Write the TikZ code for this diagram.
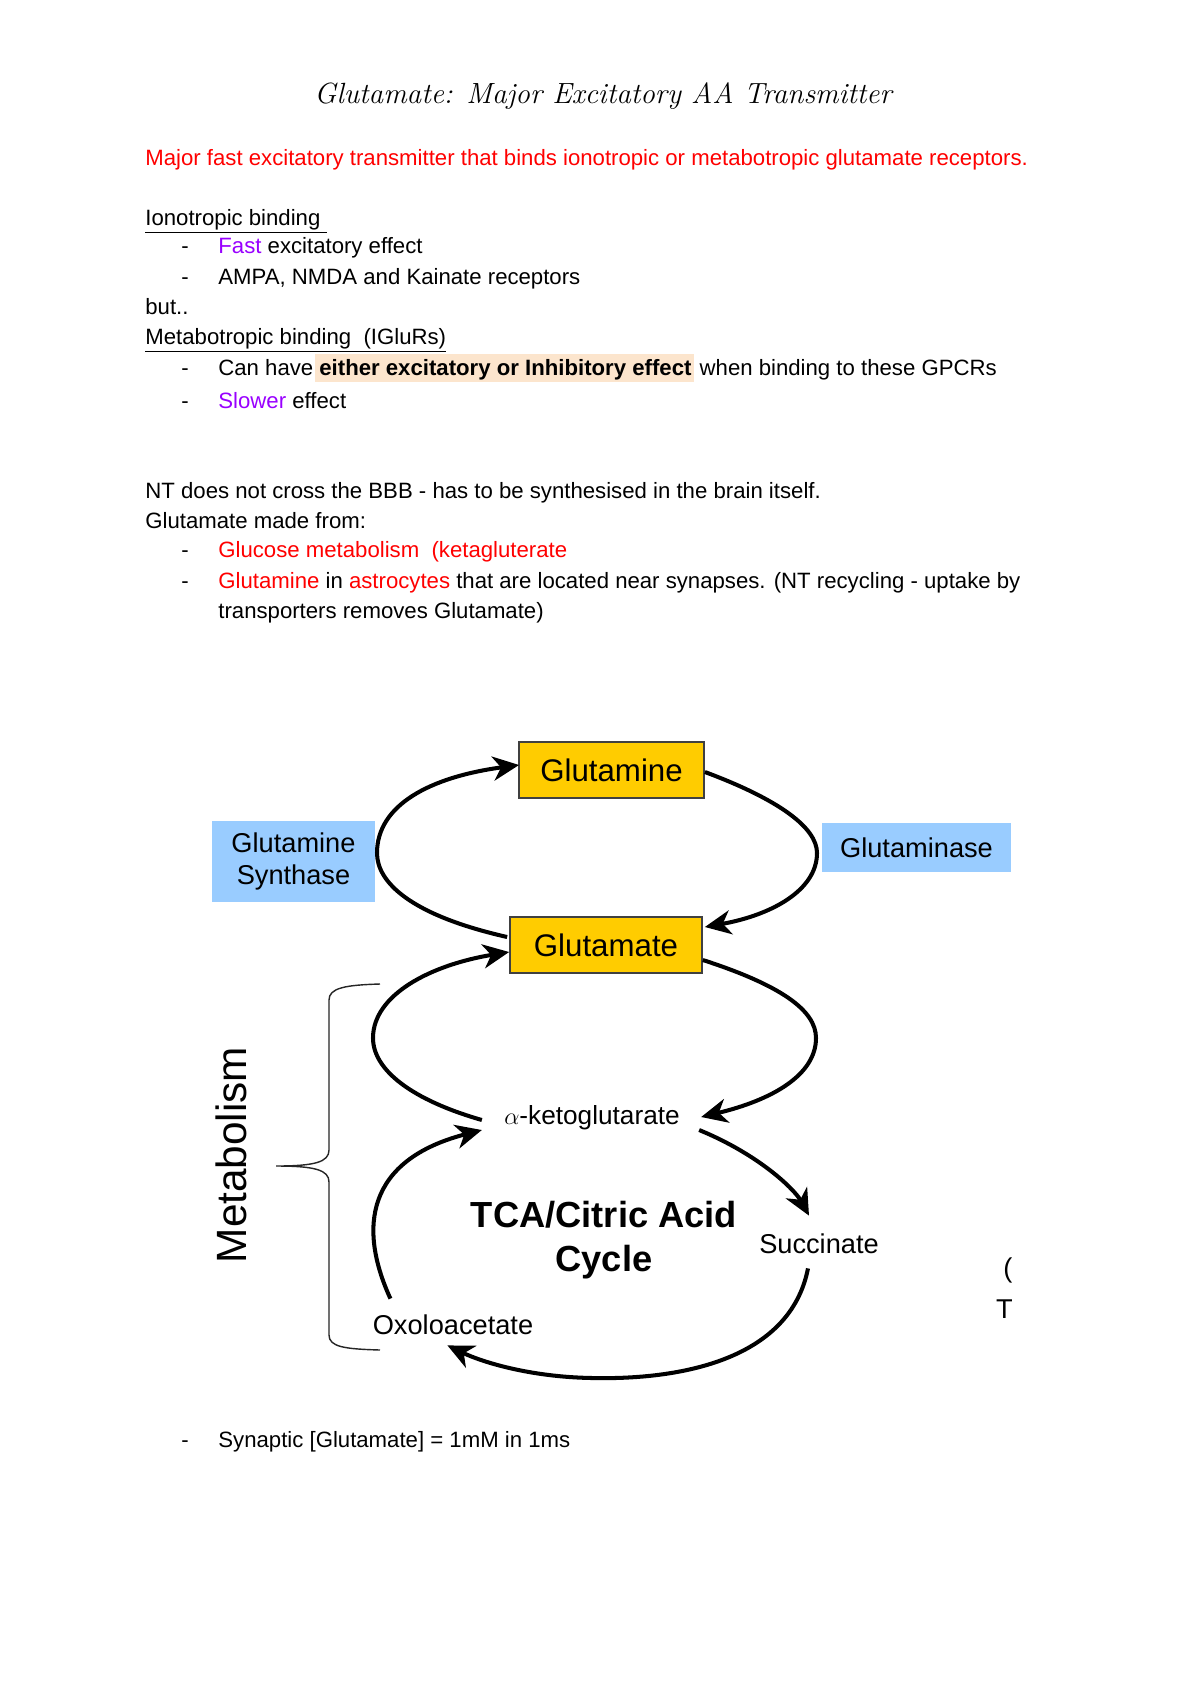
\documentclass[tikz,border=0pt]{standalone}
\usepackage{fontspec}
\newfontfamily\arialf{Liberation Sans}
\usetikzlibrary{arrows.meta,calc}
\definecolor{gdred}{HTML}{FF0000}
\definecolor{gdpurple}{HTML}{9900FF}
\definecolor{hlcol}{HTML}{FCE5CD}
\definecolor{gold}{HTML}{FFCC00}
\definecolor{lblue}{HTML}{99CCFF}
\definecolor{boxedge}{HTML}{404040}
\tikzset{
  body/.style={anchor=base west, inner sep=0pt, font=\arialf\fontsize{11pt}{13.5pt}\selectfont},
  ybox/.style={draw=boxedge, fill=gold, line width=0.9pt, inner sep=0pt, font=\arialf\fontsize{15.5pt}{18pt}\selectfont},
  bbox/.style={fill=lblue, inner sep=0pt, align=center, font=\arialf\fontsize{13.5pt}{16pt}\selectfont},
  lbl/.style={inner sep=0pt, font=\arialf\fontsize{13.5pt}{16pt}\selectfont},
  arr/.style={line width=2pt, -{Stealth[length=13pt,width=12pt,inset=4pt]}},
  bracestyle/.style={line width=0.7pt, draw=black!85},
}
\begin{document}
\begin{tikzpicture}[x=0.49606pt,y=-0.49606pt]
\useasboundingbox (0,0) rectangle (1200,1698);
\fill[white] (0,0) rectangle (1200,1698);

% ---- text ----
\node[anchor=base, inner sep=0pt, font=\fontsize{14.5pt}{17pt}\selectfont\itshape] (title) at (603,103) {Glutamate: Major Excitatory AA Transmitter};
\node[body, text=gdred] (t1) at (145,165) {Major fast excitatory transmitter that binds ionotropic or metabotropic glutamate receptors.};
\node[body] (t2) at (145,225) {\underline{Ionotropic binding\ }};
\node[body] (d1) at (181,253) {-};
\node[body] (t3) at (218,253) {{\color{gdpurple}Fast} excitatory effect};
\node[body] (d2) at (181,284) {-};
\node[body] (t4) at (218,284) {AMPA, NMDA and Kainate receptors};
\node[body] (t5) at (145,314) {but..};
\node[body] (t6) at (145,344) {\underline{Metabotropic binding\ \ (IGluRs)}};
\node[body] (d3) at (181,375) {-};
\node[body] (t7) at (218,375) {Can have\hspace{1pt}{\setlength{\fboxsep}{0pt}\colorbox{hlcol}{\rule[-3.5pt]{0pt}{13.9pt}\hspace{2pt}\textbf{either excitatory or Inhibitory effect}\hspace{1pt}}} when binding to these GPCRs};
\node[body] (d4) at (181,408) {-};
\node[body] (t8) at (218,408) {{\color{gdpurple}Slower} effect};
\node[body] (t9) at (145,498) {NT does not cross the BBB - has to be synthesised in the brain itself.};
\node[body] (t10) at (145,528) {Glutamate made from:};
\node[body] (d5) at (181,557) {-};
\node[body, text=gdred] (t11) at (218,557) {Glucose metabolism\ \ (ketagluterate};
\node[body] (d6) at (181,588) {-};
\node[body] (t12) at (218,588) {{\color{gdred}Glutamine} in {\color{gdred}astrocytes} that are located near synapses. (NT recycling - uptake by};
\node[body] (t13) at (218,618) {transporters removes Glutamate)};
\node[body] (d7) at (181,1447) {-};
\node[body] (t14) at (218,1447) {Synaptic [Glutamate] = 1mM in 1ms};

% ---- diagram nodes ----
\node[ybox, minimum width=91.8pt, minimum height=27.8pt] (gln) at (611.5,770) {Glutamine};
\node[ybox, minimum width=95.2pt, minimum height=27.8pt] (glu) at (606,945) {Glutamate};
\node[bbox, minimum width=80.9pt, minimum height=40.2pt] (gs) at (293.5,861.5) {Glutamine\\Synthase};
\node[bbox, minimum width=93.8pt, minimum height=24.3pt] (gase) at (916.5,847.5) {Glutaminase};
\node[lbl, font=\arialf\fontsize{13pt}{15pt}\selectfont] (akg) at (592,1118) {$\alpha$-ketoglutarate};
\node[lbl] (succ) at (819,1244) {Succinate};
\node[lbl] (oxa) at (453,1325) {Oxoloacetate};
\node[inner sep=0pt, align=center, font=\arialf\bfseries\fontsize{18pt}{22pt}\selectfont] (tca) at (604,1240) {TCA/Citric Acid\\Cycle};
\node[inner sep=0pt, rotate=90, font=\arialf\fontsize{21pt}{24pt}\selectfont] (metab) at (231,1155) {Metabolism};

% ---- connectors ----
% upper loop
\draw[arr] ($(glu.west)+(-2,-8)$) .. controls (410,915) and (377,882) .. (377,853)
   .. controls (377,805) and (430,777) .. ($(gln.west)+(1,-5)$);
\draw[arr] ($(gln.east)+(0,2)$) .. controls (780,800) and (817,828) .. (817,853)
   .. controls (817,890) and (772,915) .. ($(glu.east)+(2,-18)$);
% middle loop
\draw[arr] ($(akg.west)+(-22,2)$) .. controls (412,1100) and (373,1070) .. (373,1038)
   .. controls (373,995) and (430,965) .. ($(glu.west)+(0,7)$);
\draw[arr] ($(glu.east)+(0,15)$) .. controls (780,985) and (816,1010) .. (816,1038)
   .. controls (816,1075) and (772,1100) .. ($(akg.east)+(21,-1)$);
% TCA cycle
\draw[arr] ($(oxa.north west)+(18,-16)$) .. controls (358,1228) and (366,1160) .. ($(akg.west)+(-22,12)$);
\draw[arr] ($(akg.east)+(19,12)$) .. controls (760,1155) and (795,1190) .. ($(succ.north)+(-10,-18)$);
\draw[arr] ($(succ.south)+(-11,14)$) .. controls (790,1360) and (680,1380) .. (592,1378)
   .. controls (530,1377) and (482,1362) .. ($(oxa.south west)+(75,10)$);

% brace
\draw[bracestyle] (380,984) .. controls (345,985) and (329,988) .. (329,1000) -- (329,1150)
   .. controls (329,1162) and (315,1166) .. (276,1166)
   .. controls (315,1166) and (329,1170) .. (329,1182) -- (329,1335)
   .. controls (329,1347) and (345,1349) .. (380,1350);

% clipped fragments at right edge
\begin{scope}
\clip (985,1240) rectangle (1011,1335);
\node[lbl, anchor=west] (frag1) at (1003,1270) {(};
\node[lbl] (frag2) at (1004.5,1309) {T};
\end{scope}
\end{tikzpicture}
\end{document}
